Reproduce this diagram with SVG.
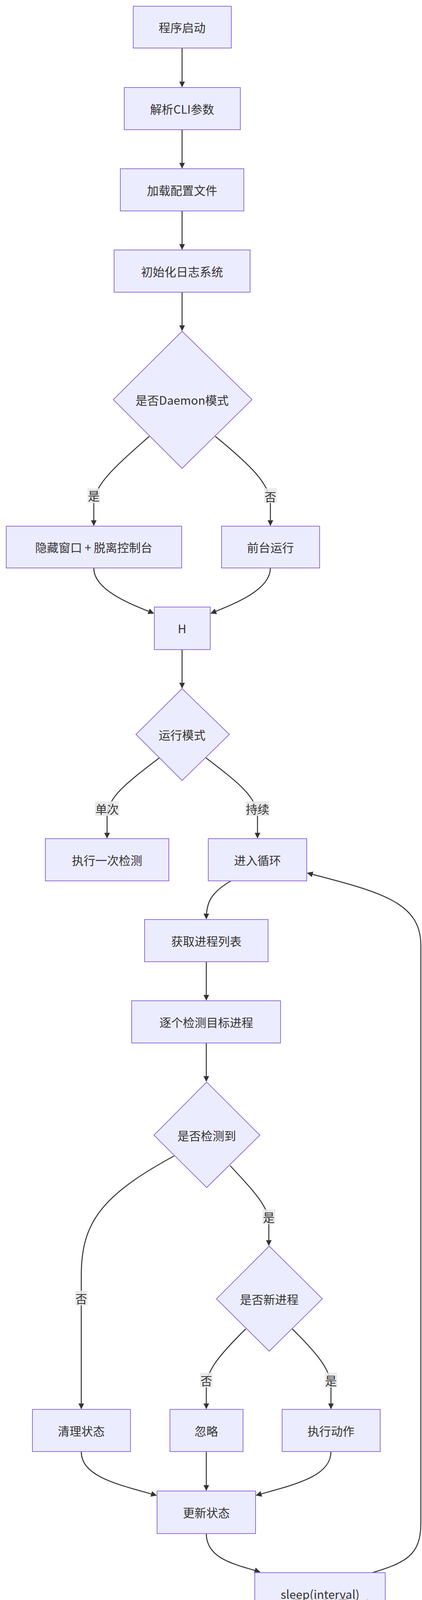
<svg xmlns="http://www.w3.org/2000/svg" width="1080" height="4143" viewBox="0 0 1080 4143">
<style>
.n{fill:#ECECFF;stroke:#9370DB;stroke-width:2}
.t{font-family:"Noto Sans CJK SC","Liberation Sans",sans-serif;font-size:30px;fill:#333;text-anchor:middle;dominant-baseline:central}
.e{fill:none;stroke:#333;stroke-width:2.5;marker-end:url(#a)}
.lb{fill:#e8e8e8;opacity:0.85}
.lt{font-family:"Noto Sans CJK SC","Liberation Sans",sans-serif;font-size:30px;fill:#333;text-anchor:middle;dominant-baseline:central}
</style>
<defs><marker id="a" viewBox="0 0 10 10" refX="9" refY="5" markerWidth="6" markerHeight="6" orient="auto" markerUnits="strokeWidth"><path d="M0,0L10,5L0,10z" fill="#333"/></marker></defs>
<rect width="1080" height="4143" fill="#fff"/>
<g id="edges">
<path class="e" d="M466,123V222"/>
<path class="e" d="M466,332V430"/>
<path class="e" d="M466,540V638"/>
<path class="e" d="M466,748V846"/>
<path class="e" d="M382,1117C300,1190 240,1240 240,1290V1345"/>
<path class="e" d="M551,1117C640,1190 692,1240 692,1290V1345"/>
<path class="e" d="M240,1454C240,1510 330,1545 393,1570"/>
<path class="e" d="M692,1454C692,1510 602,1545 540,1570"/>
<path class="e" d="M466,1663V1761"/>
<path class="e" d="M408,1940C330,2000 274,2040 274,2090V2145"/>
<path class="e" d="M527,1940C605,2000 659,2040 659,2090V2145"/>
<path class="e" d="M591,2255C540,2285 528,2310 528,2352"/>
<path class="e" d="M528,2462V2560"/>
<path class="e" d="M528,2670V2768"/>
<path class="e" d="M446,2959C260,3060 208,3130 208,3265V3606"/>
<path class="e" d="M589,2984C650,3050 688,3090 688,3130V3188"/>
<path class="e" d="M629,3402C560,3470 528,3510 528,3550V3606"/>
<path class="e" d="M748,3402C817,3470 847,3510 847,3550V3606"/>
<path class="e" d="M208,3716C208,3780 300,3800 400,3828"/>
<path class="e" d="M528,3716V3815"/>
<path class="e" d="M847,3716C847,3780 755,3800 656,3828"/>
<path class="e" d="M528,3926C528,3990 600,4005 665,4024"/>
<path class="e" d="M953,4026C1040,4000 1077,3980 1077,3900V2420C1077,2310 976,2284 787,2235"/>
</g>
<g id="labels">
<rect class="lb" x="224" y="1250" width="32" height="38"/><text class="lt" x="240" y="1268">是</text>
<rect class="lb" x="676" y="1250" width="32" height="38"/><text class="lt" x="692" y="1270">否</text>
<rect class="lb" x="243" y="2051" width="62" height="38"/><text class="lt" x="274" y="2070">单次</text>
<rect class="lb" x="628" y="2051" width="62" height="38"/><text class="lt" x="659" y="2070">持续</text>
<rect class="lb" x="672" y="3096" width="32" height="38"/><text class="lt" x="688" y="3115">是</text>
<rect class="lb" x="192" y="3304" width="32" height="38"/><text class="lt" x="208" y="3323">否</text>
<rect class="lb" x="512" y="3514" width="32" height="38"/><text class="lt" x="528" y="3533">否</text>
<rect class="lb" x="831" y="3514" width="32" height="38"/><text class="lt" x="847" y="3533">是</text>
</g>
<g id="n1"><rect class="n" x="341" y="16" width="251" height="107"/><text class="t" x="466" y="69">程序启动</text></g>
<g id="n2"><rect class="n" x="318" y="224" width="297" height="108"/><text class="t" x="466" y="278">解析CLI参数</text></g>
<g id="n3"><rect class="n" x="308" y="432" width="316" height="108"/><text class="t" x="466" y="486">加载配置文件</text></g>
<g id="n4"><rect class="n" x="292" y="640" width="348" height="108"/><text class="t" x="466" y="694">初始化日志系统</text></g>
<g id="n5"><polygon class="n" points="466,848 645,1023 466,1199 290,1023"/><text class="t" x="466" y="1023">是否Daemon模式</text></g>
<g id="n6"><rect class="n" x="16" y="1347" width="449" height="107"/><text class="t" x="240" y="1400">隐藏窗口 + 脱离控制台</text></g>
<g id="n7"><rect class="n" x="567" y="1347" width="251" height="107"/><text class="t" x="692" y="1400">前台运行</text></g>
<g id="n8"><rect class="n" x="395" y="1554" width="143" height="109"/><text class="t" x="466" y="1608">H</text></g>
<g id="n9"><polygon class="n" points="466,1763 587,1880 466,1998 348,1880"/><text class="t" x="466" y="1880">运行模式</text></g>
<g id="n10"><rect class="n" x="116" y="2147" width="316" height="108"/><text class="t" x="274" y="2201">执行一次检测</text></g>
<g id="n11"><rect class="n" x="533" y="2147" width="252" height="108"/><text class="t" x="659" y="2201">进入循环</text></g>
<g id="n12"><rect class="n" x="370" y="2354" width="316" height="108"/><text class="t" x="528" y="2408">获取进程列表</text></g>
<g id="n13"><rect class="n" x="337" y="2562" width="381" height="108"/><text class="t" x="528" y="2616">逐个检测目标进程</text></g>
<g id="n14"><polygon class="n" points="529,2770 665,2906 529,3040 394,2906"/><text class="t" x="529" y="2906">是否检测到</text></g>
<g id="n15"><polygon class="n" points="689,3190 825,3325 689,3459 554,3325"/><text class="t" x="689" y="3325">是否新进程</text></g>
<g id="n16"><rect class="n" x="83" y="3608" width="251" height="108"/><text class="t" x="208" y="3662">清理状态</text></g>
<g id="n17"><rect class="n" x="435" y="3608" width="187" height="108"/><text class="t" x="528" y="3662">忽略</text></g>
<g id="n18"><rect class="n" x="722" y="3608" width="251" height="108"/><text class="t" x="847" y="3662">执行动作</text></g>
<g id="n19"><rect class="n" x="402" y="3817" width="252" height="109"/><text class="t" x="528" y="3871">更新状态</text></g>
<g id="n20"><rect class="n" x="652" y="4026" width="334" height="108"/><text class="t" x="819" y="4080">sleep(interval)</text></g>
<text x="746" y="4102" font-family="Noto Sans CJK SC,Liberation Sans,sans-serif" font-size="24" fill="#fff" stroke="#999" stroke-width="0.8" opacity="0.85" dominant-baseline="central">掘金技术社区 @ alwaysrun</text>
</svg>
